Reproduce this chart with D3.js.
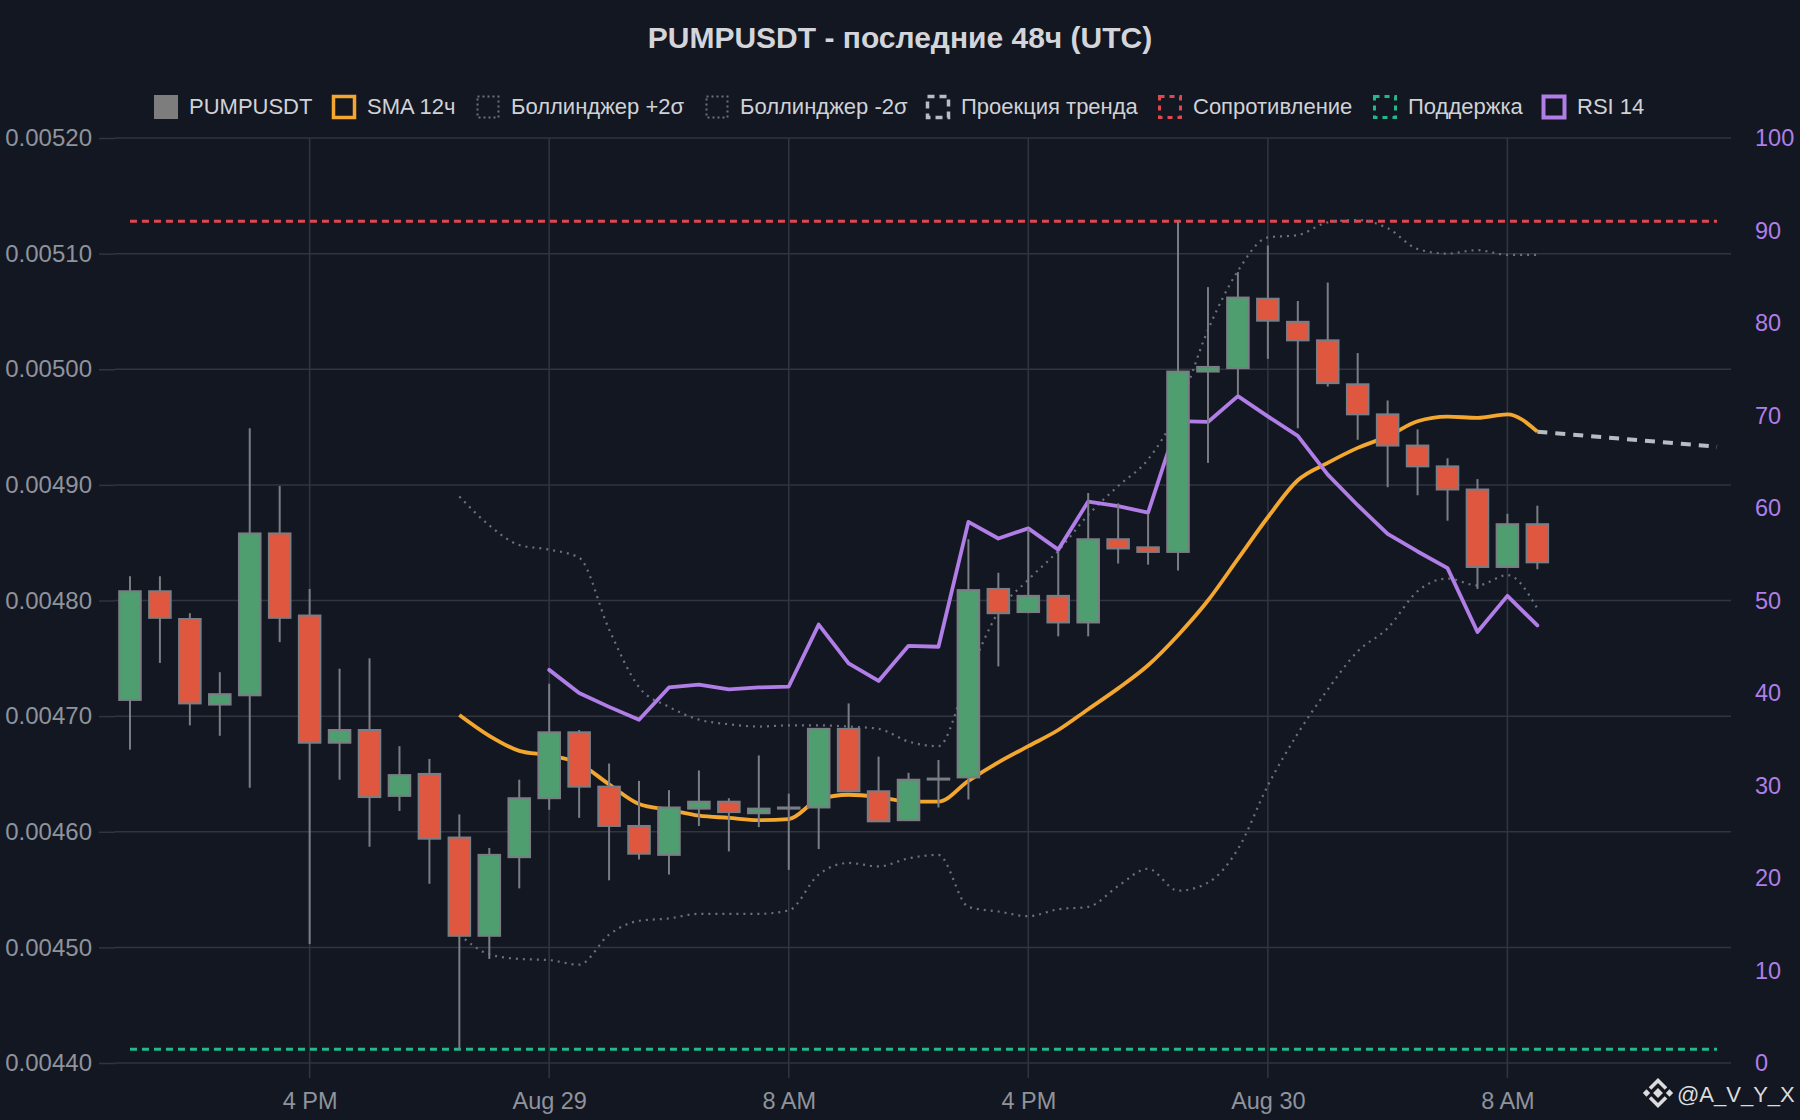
<!DOCTYPE html>
<html><head><meta charset="utf-8">
<script src="https://cdn.jsdelivr.net/npm/d3@7"></script>
<style>
html,body{margin:0;padding:0;background:#131722;}
svg{display:block;font-family:"Liberation Sans",Arial,sans-serif;}
</style></head>
<body><svg id="chart" width="1800" height="1120"></svg>
<script>
// ---------- DATA ----------
const times = [
"2025-08-28T10:00Z","2025-08-28T11:00Z","2025-08-28T12:00Z","2025-08-28T13:00Z","2025-08-28T14:00Z","2025-08-28T15:00Z",
"2025-08-28T16:00Z","2025-08-28T17:00Z","2025-08-28T18:00Z","2025-08-28T19:00Z","2025-08-28T20:00Z","2025-08-28T21:00Z",
"2025-08-28T22:00Z","2025-08-28T23:00Z","2025-08-29T00:00Z","2025-08-29T01:00Z","2025-08-29T02:00Z","2025-08-29T03:00Z",
"2025-08-29T04:00Z","2025-08-29T05:00Z","2025-08-29T06:00Z","2025-08-29T07:00Z","2025-08-29T08:00Z","2025-08-29T09:00Z",
"2025-08-29T10:00Z","2025-08-29T11:00Z","2025-08-29T12:00Z","2025-08-29T13:00Z","2025-08-29T14:00Z","2025-08-29T15:00Z",
"2025-08-29T16:00Z","2025-08-29T17:00Z","2025-08-29T18:00Z","2025-08-29T19:00Z","2025-08-29T20:00Z","2025-08-29T21:00Z",
"2025-08-29T22:00Z","2025-08-29T23:00Z","2025-08-30T00:00Z","2025-08-30T01:00Z","2025-08-30T02:00Z","2025-08-30T03:00Z",
"2025-08-30T04:00Z","2025-08-30T05:00Z","2025-08-30T06:00Z","2025-08-30T07:00Z","2025-08-30T08:00Z","2025-08-30T09:00Z"];

const openP = [0.004714,0.004808,0.004784,0.004710,0.004718,0.004858,0.004787,0.004677,0.004688,0.004631,0.004650,0.004595,
0.004510,0.004578,0.004629,0.004686,0.004639,0.004605,0.004580,0.004620,0.004626,0.004616,0.004620,0.004621,
0.004689,0.004635,0.004610,0.004646,0.004647,0.004810,0.004790,0.004804,0.004781,0.004853,0.004846,0.004842,
0.004998,0.005001,0.005061,0.005041,0.005025,0.004987,0.004961,0.004934,0.004916,0.004896,0.004829,0.004866];
const highP = [0.004821,0.004821,0.004789,0.004738,0.004949,0.004899,0.004810,0.004741,0.004750,0.004674,0.004663,0.004615,
0.004586,0.004645,0.004728,0.004688,0.004659,0.004644,0.004636,0.004653,0.004629,0.004666,0.004633,0.004689,
0.004711,0.004665,0.004651,0.004662,0.004853,0.004824,0.004862,0.004843,0.004893,0.004884,0.004875,0.005128,
0.005071,0.005084,0.005107,0.005059,0.005075,0.005014,0.004973,0.004948,0.004923,0.004905,0.004875,0.004882];
const lowP = [0.004671,0.004746,0.004692,0.004683,0.004638,0.004764,0.004503,0.004645,0.004587,0.004618,0.004555,0.004412,
0.004490,0.004551,0.004619,0.004612,0.004558,0.004576,0.004563,0.004605,0.004583,0.004604,0.004567,0.004585,
0.004635,0.004609,0.004610,0.004621,0.004628,0.004743,0.004789,0.004769,0.004769,0.004832,0.004831,0.004826,
0.004919,0.004978,0.005009,0.004949,0.004985,0.004939,0.004898,0.004891,0.004869,0.004810,0.004828,0.004827];
const closeP = [0.004808,0.004785,0.004711,0.004719,0.004858,0.004785,0.004677,0.004688,0.004630,0.004649,0.004594,0.004510,
0.004580,0.004629,0.004686,0.004639,0.004605,0.004581,0.004621,0.004626,0.004617,0.004620,0.004621,0.004689,
0.004635,0.004609,0.004645,0.004646,0.004809,0.004789,0.004804,0.004781,0.004853,0.004845,0.004842,0.004998,
0.005002,0.005062,0.005042,0.005025,0.004988,0.004961,0.004934,0.004916,0.004896,0.004829,0.004866,0.004833];

const sma12 = [null,null,null,null,null,null,null,null,null,null,null,0.004701,
0.004683,0.004670,0.004666,0.004659,0.004641,0.004624,0.004619,0.004614,0.004612,0.004610,0.004611,0.004628,
0.004632,0.004630,0.004626,0.004626,0.004644,0.004660,0.004674,0.004688,0.004706,0.004724,0.004744,0.004770,
0.004800,0.004836,0.004872,0.004904,0.004919,0.004932,0.004942,0.004955,0.004959,0.004958,0.004961,0.004946];
const bbUpper = [null,null,null,null,null,null,null,null,null,null,null,0.004890,
0.004865,0.004848,0.004844,0.004837,0.004775,0.004725,0.004708,0.004697,0.004693,0.004691,0.004692,0.004692,
0.004691,0.004689,0.004678,0.004674,0.004735,0.004790,0.004818,0.004843,0.004874,0.004899,0.004922,0.004965,
0.005034,0.005085,0.005114,0.005116,0.005127,0.005129,0.005122,0.005104,0.005100,0.005103,0.005099,0.005099];
const bbLower = [null,null,null,null,null,null,null,null,null,null,null,0.004511,
0.004494,0.004490,0.004489,0.004485,0.004511,0.004523,0.004525,0.004529,0.004529,0.004529,0.004532,0.004563,
0.004573,0.004570,0.004577,0.004580,0.004535,0.004531,0.004527,0.004533,0.004535,0.004553,0.004568,0.004549,
0.004556,0.004585,0.004640,0.004685,0.004723,0.004756,0.004776,0.004808,0.004819,0.004813,0.004822,0.004793];
const rsi14 = [null,null,null,null,null,null,null,null,null,null,null,null,null,null,42.5,40.0,38.5,37.1,40.6,40.9,40.4,40.6,40.7,47.4,
43.2,41.3,45.1,45.0,58.5,56.7,57.8,55.5,60.7,60.2,59.5,69.4,69.3,72.1,69.9,67.8,63.6,60.3,57.2,55.3,53.5,46.6,50.5,47.3];

const projTimes = ["2025-08-30T09:00Z","2025-08-30T15:00Z"];
const projValues = [0.004946,0.004933];
const levelTimes = ["2025-08-28T10:00Z","2025-08-30T15:00Z"];
const resistance = 0.005128;
const support = 0.004412;

const priceTicks = [0.0044,0.0045,0.0046,0.0047,0.0048,0.0049,0.0050,0.0051,0.0052];
const rsiTicks = [0,10,20,30,40,50,60,70,80,90,100];
const xTickTimes = ["2025-08-28T16:00Z","2025-08-29T00:00Z","2025-08-29T08:00Z","2025-08-29T16:00Z","2025-08-30T00:00Z","2025-08-30T08:00Z"];
const xTickLabels = ["4 PM","Aug 29","8 AM","4 PM","Aug 30","8 AM"];

const legendNames = ["PUMPUSDT","SMA 12ч","Боллинджер +2σ","Боллинджер -2σ","Проекция тренда","Сопротивление","Поддержка","RSI 14"];

// ---------- LAYOUT ----------
const C = {bg:"#131722",grid:"#31353f",text:"#8f939c",title:"#d3d5da",up:"#4e9e70",down:"#e0573f",wick:"#7a7d83",
  sma:"#f4a72f",bb:"#6c7180",proj:"#b9bcc3",res:"#e0474f",sup:"#22b88a",rsi:"#b07ee6"};
const L=115,R=1731,T=138,B=1063,Bext=1078;
const svg=d3.select("#chart");
svg.append("rect").attr("width",1800).attr("height",1120).attr("fill",C.bg);

const parse=d3.utcParse("%Y-%m-%dT%H:%MZ");
const tDates=times.map(parse);
const x=d3.scaleUtc().domain([parse("2025-08-28T09:30Z"),new Date(parse("2025-08-30T15:00Z").getTime()+28*60000)]).range([L,R]);
const y=d3.scaleLinear().domain([0.0044,0.0052]).range([B,T]);
const yR=d3.scaleLinear().domain([0,100]).range([B,T]);

// grid
const g=svg.append("g");
g.selectAll(".hg").data(priceTicks).join("line").attr("x1",L).attr("x2",R).attr("y1",d=>y(d)).attr("y2",d=>y(d))
  .attr("stroke",C.grid).attr("stroke-width",1.5);
g.selectAll(".vg").data(xTickTimes.map(parse)).join("line").attr("x1",d=>x(d)).attr("x2",d=>x(d)).attr("y1",T).attr("y2",Bext)
  .attr("stroke",C.grid).attr("stroke-width",1.5);

// axes
const yAx=svg.append("g").attr("transform",`translate(${L},0)`)
  .call(d3.axisLeft(y).tickValues(priceTicks).tickFormat(d3.format(".5f")).tickSize(16).tickPadding(7));
yAx.select(".domain").remove();
yAx.selectAll("line").attr("stroke",C.grid).attr("stroke-width",1.5);
yAx.selectAll("text").attr("fill",C.text).style("font-size","24px");

const yRAx=svg.append("g").attr("transform",`translate(${R},0)`)
  .call(d3.axisRight(yR).tickValues(rsiTicks).tickSize(0).tickPadding(24));
yRAx.select(".domain").remove();
yRAx.selectAll("text").attr("fill",C.rsi).style("font-size","23.5px");

const xAx=svg.append("g").attr("transform",`translate(0,${Bext})`)
  .call(d3.axisBottom(x).tickValues(xTickTimes.map(parse)).tickFormat((d,i)=>xTickLabels[i]).tickSize(0).tickPadding(14));
xAx.select(".domain").remove();
xAx.selectAll("text").attr("fill",C.text).style("font-size","23.5px");

// levels
const lvl=d3.line().x(d=>x(d[0])).y(d=>y(d[1]));
svg.append("path").attr("d",lvl(levelTimes.map(t=>[parse(t),resistance]))).attr("stroke",C.res).attr("stroke-width",3)
  .attr("stroke-dasharray","7,5").attr("fill","none");
svg.append("path").attr("d",lvl(levelTimes.map(t=>[parse(t),support]))).attr("stroke",C.sup).attr("stroke-width",3)
  .attr("stroke-dasharray","7,5").attr("fill","none");

// bollinger
const lineP=d3.line().defined(d=>d[1]!=null).x(d=>x(d[0])).y(d=>y(d[1])).curve(d3.curveMonotoneX);
[bbUpper,bbLower].forEach(arr=>{
  svg.append("path").attr("d",lineP(tDates.map((t,i)=>[t,arr[i]]))).attr("stroke",C.bb).attr("stroke-width",2.2)
    .attr("stroke-dasharray","2,5").attr("fill","none");
});
// sma
svg.append("path").attr("d",lineP(tDates.map((t,i)=>[t,sma12[i]]))).attr("stroke",C.sma).attr("stroke-width",3.8).attr("fill","none");
// projection
svg.append("path").attr("d",lvl(projTimes.map((t,i)=>[parse(t),projValues[i]]))).attr("stroke",C.proj).attr("stroke-width",4)
  .attr("stroke-dasharray","10,8").attr("fill","none");
// rsi
const lineR=d3.line().defined(d=>d[1]!=null).x(d=>x(d[0])).y(d=>yR(d[1]));
svg.append("path").attr("d",lineR(tDates.map((t,i)=>[t,rsi14[i]]))).attr("stroke",C.rsi).attr("stroke-width",3.8)
  .attr("stroke-linejoin","round").attr("stroke-linecap","round").attr("fill","none");

// candles
const bw=(x(parse(times[1]))-x(parse(times[0])))*0.72;
const cg=svg.append("g");
tDates.forEach((t,i)=>{
  const up=closeP[i]>openP[i];
  const cx=x(t);
  cg.append("line").attr("x1",cx).attr("x2",cx).attr("y1",y(highP[i])).attr("y2",y(lowP[i])).attr("stroke",C.wick).attr("stroke-width",2);
  const top=y(Math.max(openP[i],closeP[i])), bot=y(Math.min(openP[i],closeP[i]));
  cg.append("rect").attr("x",cx-bw/2).attr("y",top).attr("width",bw).attr("height",Math.max(bot-top,1))
    .attr("fill",up?C.up:C.down).attr("stroke",C.wick).attr("stroke-width",2);
});

// title
svg.append("text").attr("x",900).attr("y",48).attr("text-anchor","middle").attr("fill",C.title)
  .style("font-size","30px").style("font-weight","bold").text("PUMPUSDT - последние 48ч (UTC)");

// legend
const legX=[154,332,476,705,926,1158,1373,1542];
const lg=svg.append("g");
legendNames.forEach((n,i)=>{
  const gx=legX[i], gy=95;
  const s=lg.append("rect").attr("x",gx+1.5).attr("y",gy+1.5).attr("width",21).attr("height",21).attr("fill","none");
  if(i===0) s.attr("fill","#7d7d7d").attr("x",gx).attr("y",gy).attr("width",24).attr("height",24);
  else if(i===1) s.attr("stroke",C.sma).attr("stroke-width",3.5);
  else if(i===2||i===3) s.attr("stroke",C.bb).attr("stroke-width",2).attr("stroke-dasharray","2,3");
  else if(i===4) s.attr("stroke",C.proj).attr("stroke-width",3.5).attr("stroke-dasharray","7,5");
  else if(i===5) s.attr("stroke",C.res).attr("stroke-width",3).attr("stroke-dasharray","5,5");
  else if(i===6) s.attr("stroke",C.sup).attr("stroke-width",3).attr("stroke-dasharray","5,5");
  else s.attr("stroke",C.rsi).attr("stroke-width",4);
  lg.append("text").attr("x",gx+35).attr("y",gy+19).attr("fill","#d0d2d6").style("font-size","22px").text(n);
});

// watermark (Binance-style logo + handle)
const wm=svg.append("g").attr("transform","translate(1658,1093)").attr("fill","none").attr("stroke","#dcdcdc");
wm.append("rect").attr("x",-3.5).attr("y",-3.5).attr("width",7).attr("height",7).attr("transform","rotate(45)").attr("fill","#dcdcdc").attr("stroke","none");
[-11.5,11.5].forEach(dx=>wm.append("rect").attr("x",dx-2.6).attr("y",-2.6).attr("width",5.2).attr("height",5.2)
  .attr("transform",`rotate(45,${dx},0)`).attr("fill","#dcdcdc").attr("stroke","none"));
wm.append("path").attr("d","M-8,-4.5 L0,-12.5 L8,-4.5").attr("stroke-width",3.6);
wm.append("path").attr("d","M-8,4.5 L0,12.5 L8,4.5").attr("stroke-width",3.6);
svg.append("text").attr("x",1677).attr("y",1102).attr("fill","#dcdcdc").style("font-size","22px").text("@A_V_Y_X");
</script></body></html>
